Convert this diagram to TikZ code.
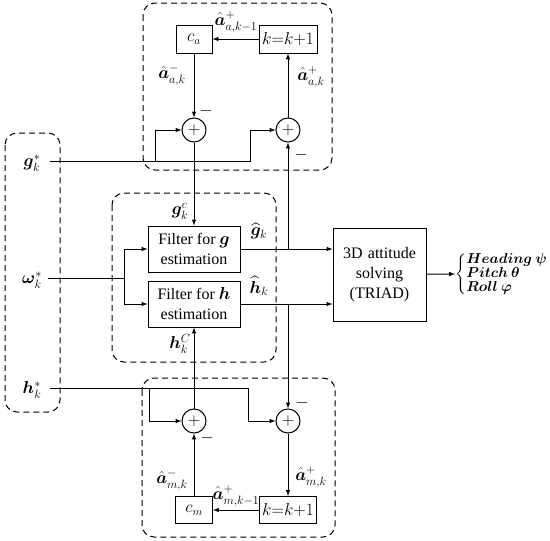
\documentclass[tikz,border=0pt]{standalone}
\usepackage{amsmath}
\usepackage{amssymb}
\usepackage{bm}
\usepackage{fontspec}
\setmainfont{Liberation Serif}
\usepackage{tikz}

\begin{document}
\begin{tikzpicture}[x=1pt,y=-1pt,>=latex,line width=1pt,
  font=\fontsize{16}{20}\selectfont,
  grp/.style={draw,dash pattern=on 6pt off 4pt,rounded corners=12pt},
  blk/.style={draw,align=center,inner sep=1pt},
  sig/.style={inner sep=0pt,font=\fontsize{17}{20}\selectfont},
  sumnode/.style={draw,circle,inner sep=0pt,minimum size=24pt}]
\useasboundingbox (0,0) rectangle (550,541);
% dashed groups
  \draw[grp] (5,133) rectangle (60,412);
  \draw[grp] (143,3) rectangle (332,170);
  \draw[grp] (112,193) rectangle (276,362);
  \draw[grp] (142,378) rectangle (335,537);
% inputs
  \node[sig] (gs) at (32,163) {$\bm{g}_k^{*}$};
  \node[sig] (ws) at (32,280) {$\bm{\omega}_k^{*}$};
  \node[sig] (hs) at (32,390) {$\bm{h}_k^{*}$};
  \coordinate (gin) at (50,161);
  \coordinate (win) at (48,278);
  \coordinate (hin) at (50,388);
% upper loop
  \node[blk,minimum width=36pt,minimum height=28pt] (ca) at (194,39) {$c_a$};
  \node[blk,minimum width=58pt,minimum height=28pt] (ka) at (288,39) {$k{=}k{+}1$};
  \node[sumnode] (sa1) at (194,130) {$+$};
  \node[sumnode] (sa2) at (288,130) {$+$};
% filters
  \node[blk,minimum width=92pt,minimum height=46pt] (fg) at (194,249) {Filter for $\bm{g}$\\estimation};
  \node[blk,minimum width=92pt,minimum height=46pt] (fh) at (194,304) {Filter for $\bm{h}$\\estimation};
  \node[blk,minimum width=93pt,minimum height=93pt,text width=88pt] (triad) at (379.5,274.5)
    {\baselineskip=19.5pt 3D attitude\\solving\\(TRIAD)};
% lower loop
  \node[sumnode] (sm1) at (194,421) {$+$};
  \node[sumnode] (sm2) at (288,421) {$+$};
  \node[blk,minimum width=37pt,minimum height=27pt] (cm) at (194,510) {$c_m$};
  \node[blk,minimum width=57pt,minimum height=27pt] (km) at (288,510) {$k{=}k{+}1$};
% output
  \node[anchor=west,inner sep=0pt,font=\fontsize{13.5}{16}\selectfont] (out) at (455,274)
    {$\left\{\begin{array}{@{}l@{}}\bm{Heading}\ \bm{\psi}\\[-2pt]\bm{Pitch}\ \bm{\theta}\\[-2pt]\bm{Roll}\ \bm{\varphi}\end{array}\right.$};

% connectors
  \coordinate (j1) at (155,161);
  \coordinate (j2) at (250,161);
  \draw[->] (gin) -- (j1) |- (sa1);
  \draw[->] (j1) -- (j2) |- (sa2);
  \draw[->] (ca) -- (sa1);
  \draw[->] (sa2) -- (ka);
  \draw[->] (ka) -- (ca);
  \draw[->] (sa1) -- (fg);
  \coordinate (wj) at (124,278);
  \draw (win) -- (wj);
  \draw[->] (wj) |- (fg);
  \draw[->] (wj) |- (fh);
  \draw[->] (fg) -- (triad.west |- fg);
  \draw[->] (fh) -- (triad.west |- fh);
  \draw[->] (sa2 |- fg) -- (sa2);
  \draw[->] (sm2 |- fh) -- (sm2);
  \coordinate (hj1) at (149,388);
  \coordinate (hj2) at (248,388);
  \draw (hin) -- (hj2);
  \draw[->] (hj1) |- (sm1);
  \draw[->] (hj2) |- (sm2);
  \draw[->] (sm1) -- (fh);
  \draw[->] (sm2) -- (km);
  \draw[->] (km) -- (cm);
  \draw[->] (cm) -- (sm1);
  \draw[->] (triad) -- (out.west);

% signal labels
  \node[sig] (lak1) at (236,22) {$\hat{\bm{a}}^{+}_{a,k-1}$};
  \node[sig] (lam) at (172,75) {$\hat{\bm{a}}^{-}_{a,k}$};
  \node[sig] (lap) at (311,77) {$\hat{\bm{a}}^{+}_{a,k}$};
  \node[sig] (lgc) at (180,211) {$\bm{g}_k^{c}$};
  \node[sig] (lgh) at (259,231) {$\widehat{\bm{g}}_k$};
  \node[sig] (lhh) at (259,286) {$\widehat{\bm{h}}_k$};
  \node[sig] (lhc) at (180,344) {$\bm{h}_k^{C}$};
  \node[sig] (lmp) at (311,477) {$\hat{\bm{a}}^{+}_{m,k}$};
  \node[sig] (lmm) at (172,480) {$\hat{\bm{a}}^{-}_{m,k}$};
  \node[sig] (lmk1) at (236,496) {$\hat{\bm{a}}^{+}_{m,k-1}$};
% minus signs
  \foreach \x/\y/\n in {206/111/a1,301/155/a2,207/438/m1,302/403/m2}
    \node (minus\n) at (\x,\y) {$-$};
\end{tikzpicture}
\end{document}
